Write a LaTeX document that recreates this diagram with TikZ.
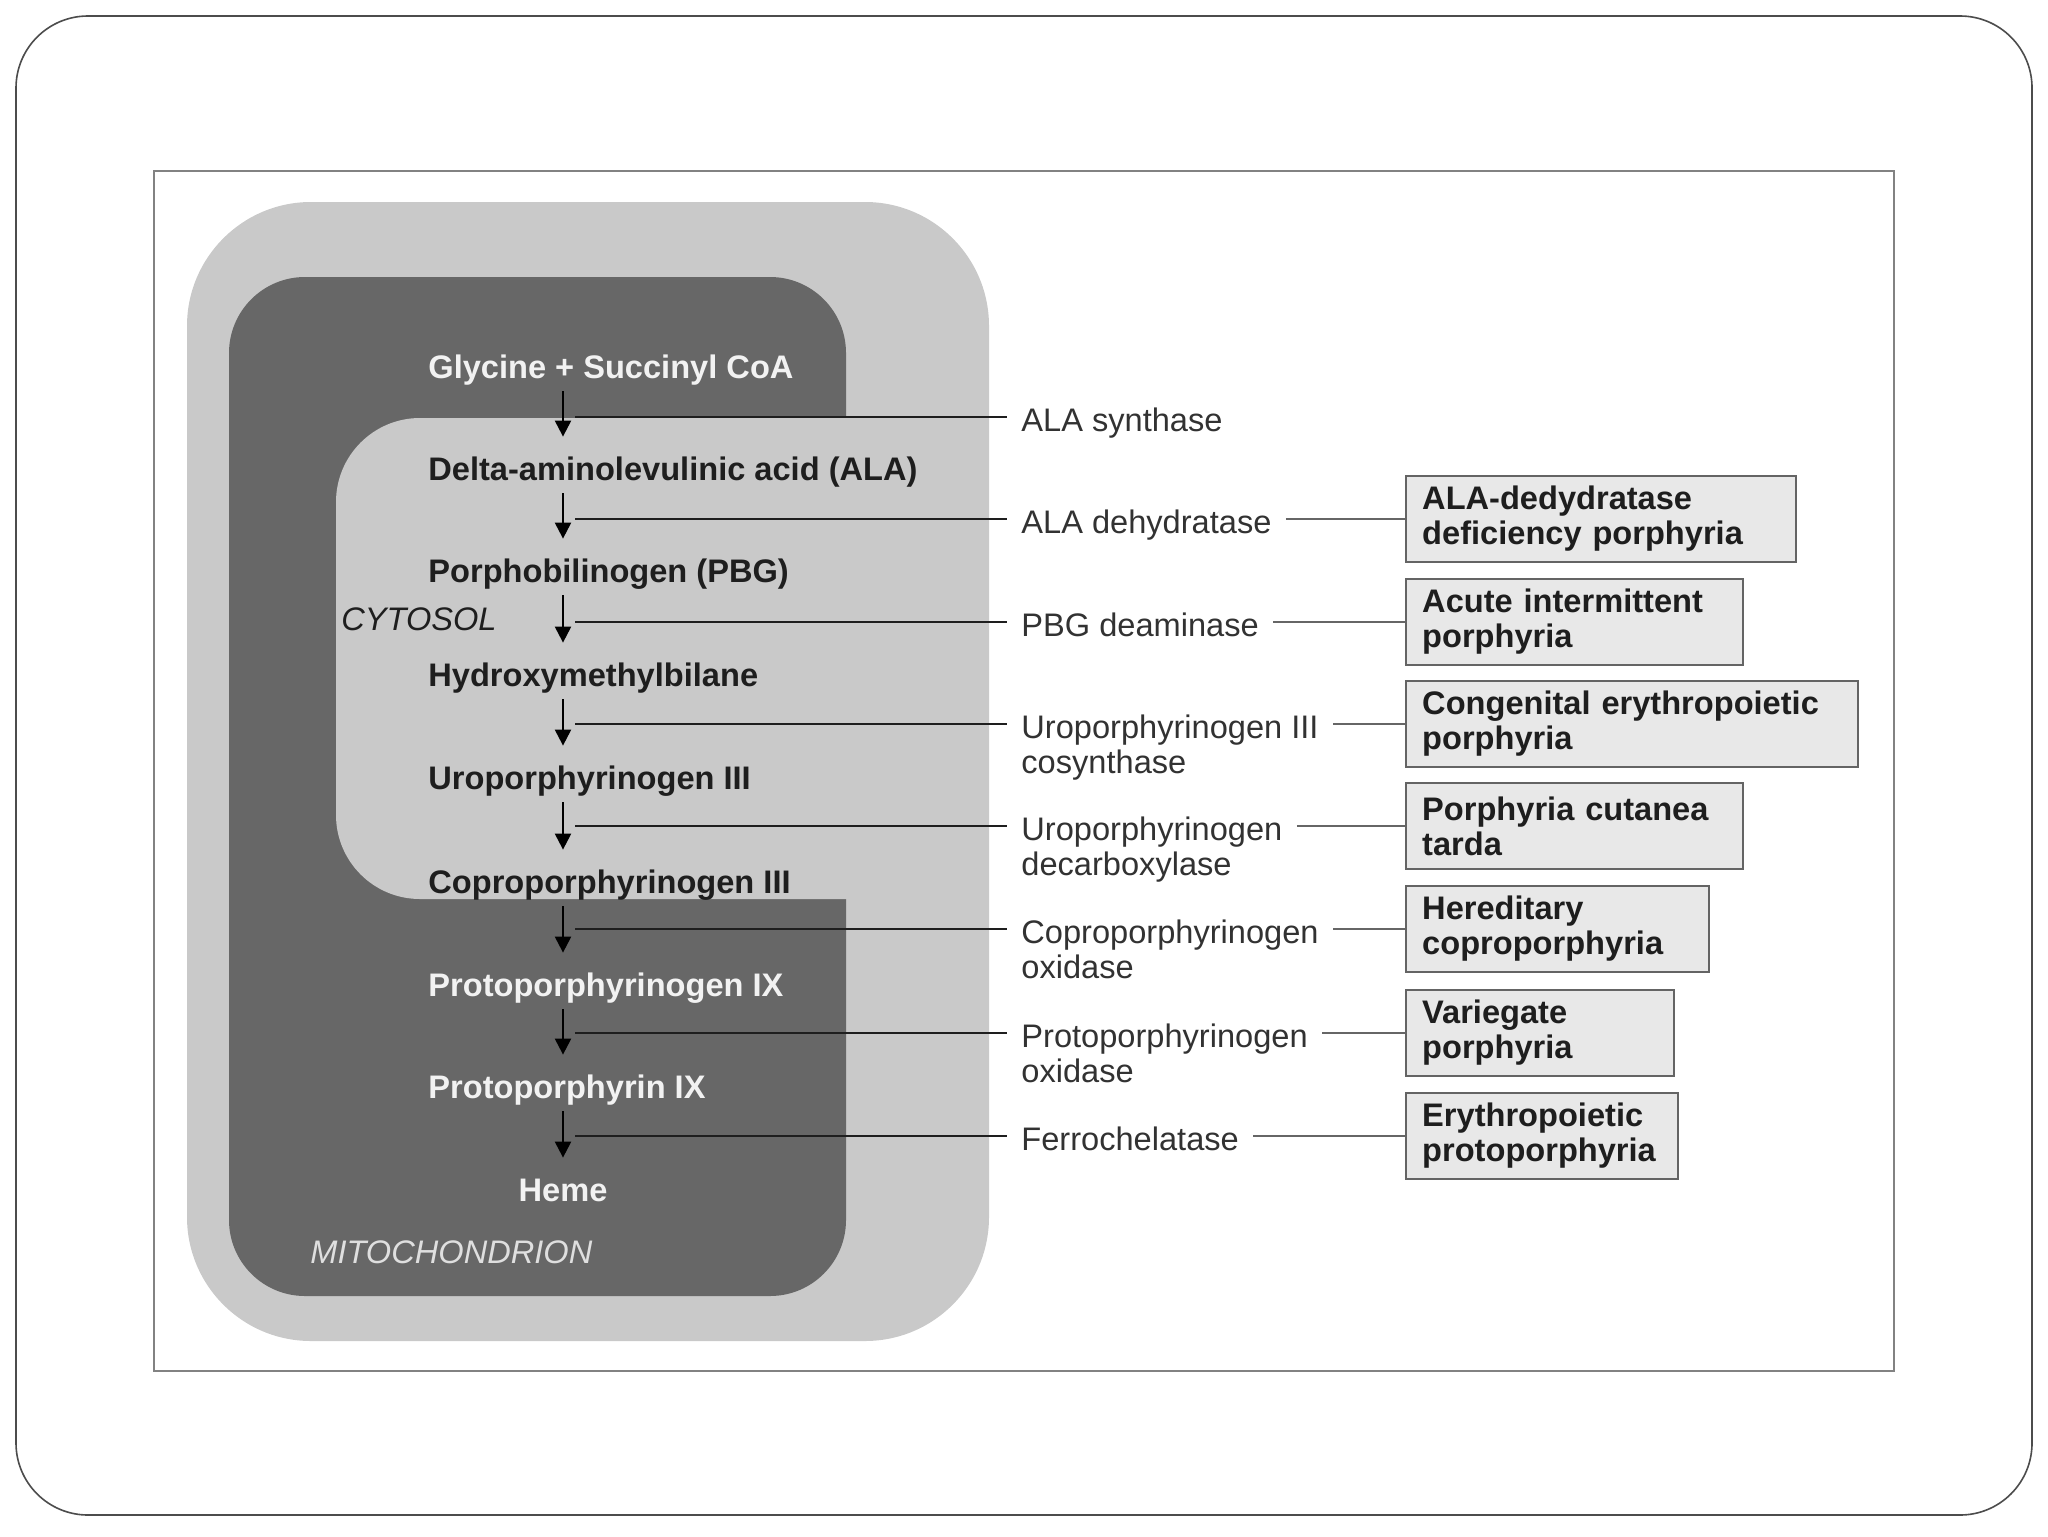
\documentclass[tikz,border=0pt]{standalone}
\usepackage{fontspec}
\setmainfont{Liberation Sans}
\definecolor{cytogray}{RGB}{201, 201, 201}
\definecolor{mitogray}{RGB}{103, 103, 103}
\definecolor{cytotext}{RGB}{30, 30, 30}
\definecolor{mitotext}{RGB}{242, 242, 242}
\definecolor{enztext}{RGB}{50, 50, 50}
\definecolor{boxfill}{RGB}{232, 232, 232}
\definecolor{boxline}{RGB}{100, 100, 100}
\definecolor{framegray}{RGB}{130, 130, 130}
\usetikzlibrary{arrows.meta}
\newcommand{\porfont}{\fontsize{16.3}{17.5}\selectfont}

\begin{document}
\begin{tikzpicture}[x=0.5pt, y=-0.5pt,
    met/.style={font=\porfont\bfseries, anchor=west, inner xsep=0pt, inner ysep=3pt, text height=11.5pt, text depth=3.5pt},
    metin/.style={met, text=cytotext},
    metout/.style={met, text=mitotext},
    enz/.style={font=\porfont, anchor=base west, align=left, inner sep=0pt, text=enztext},
    dbox/.style={draw=boxline, fill=boxfill, line width=1.2pt, anchor=west, align=left, inner xsep=8pt, inner ysep=0pt, minimum height=43pt, text width=#1, font=\porfont\bfseries, text=cytotext},
    flow/.style={line width=1.1pt, -{Triangle[width=8pt, length=8pt]}, shorten >=7pt},
    link/.style={line width=1.3pt, draw=cytotext}]
  \useasboundingbox (0,0) rectangle (2048,1536);
  % slide and figure frames
  \draw[black!70, line width=0.8pt, rounded corners=36pt] (16,16) rectangle (2032,1515);
  \draw[framegray, line width=1pt] (154,171) rectangle (1894,1371);
  % compartments
  \fill[cytogray, rounded corners=62pt] (187,202) rectangle (989,1341);
  \fill[mitogray, rounded corners=38pt] (229,277) rectangle (846,1296);
  \fill[cytogray, rounded corners=42pt] (336,418) rectangle (950,899);
  \node[font=\porfont\itshape, text=cytotext, anchor=west, inner sep=0pt] (cyto) at (341,619) {CYTOSOL};
  \node[font=\porfont\itshape, text=mitotext!92!black, anchor=west, inner sep=0pt] (mito) at (310,1252) {MITOCHONDRION};

  % pathway
  \node[metout] (m1) at (428,370) {Glycine + Succinyl CoA};
  \node[metin] (m2) at (428,472) {Delta-aminolevulinic acid (ALA)};
  \node[metin] (m3) at (428,574) {Porphobilinogen (PBG)};
  \node[metin] (m4) at (428,678) {Hydroxymethylbilane};
  \node[metin] (m5) at (428,781) {Uroporphyrinogen III};
  \node[metin] (m6) at (428,885) {Coproporphyrinogen III};
  \node[metout] (m7) at (428,988) {Protoporphyrinogen IX};
  \node[metout] (m8) at (428,1090) {Protoporphyrin IX};
  \node[metout, anchor=center] (m9) at (563,1193) {Heme};
  \coordinate (ax) at (563,0);
  \foreach \a/\b in {m1/m2, m2/m3, m3/m4, m4/m5, m5/m6, m6/m7, m7/m8, m8/m9}
    \draw[flow] (\a.south -| ax) -- (\b.north -| ax);

  % enzymes
  \foreach \i/\y in {1/417, 2/519, 3/622, 4/724, 5/826, 6/929, 7/1033, 8/1136}
    \coordinate (r\i) at (575,\y);
  \node[enz] (e1) at (1021,431) {ALA synthase};
  \node[enz] (e2) at (1021,533) {ALA dehydratase};
  \node[enz] (e3) at (1021,636) {PBG deaminase};
  \node[enz] (e4) at (1021,773) {Uroporphyrinogen III\\cosynthase};
  \node[enz] (e5) at (1021,875) {Uroporphyrinogen\\decarboxylase};
  \node[enz] (e6) at (1021,978) {Coproporphyrinogen\\oxidase};
  \node[enz] (e7) at (1021,1082) {Protoporphyrinogen\\oxidase};
  \node[enz] (e8) at (1021,1150) {Ferrochelatase};

  % porphyrias
  \node[dbox=179pt] (d2) at (1405,519) {ALA-dedydratase\\deficiency porphyria};
  \node[dbox=152.5pt] (d3) at (1405,622) {Acute intermittent\\porphyria};
  \node[dbox=210pt] (d4) at (1405,724) {Congenital erythropoietic\\porphyria};
  \node[dbox=152.5pt] (d5) at (1405,826) {Porphyria cutanea\\tarda};
  \node[dbox=135.5pt] (d6) at (1405,929) {Hereditary\\coproporphyria};
  \node[dbox=118pt] (d7) at (1405,1033) {Variegate\\porphyria};
  \node[dbox=120pt] (d8) at (1405,1136) {Erythropoietic\\protoporphyria};

  \foreach \i in {1,...,8}
    \draw[link, shorten >=7pt] (r\i) -- (e\i.west |- r\i);
  \foreach \i in {2,...,8}
    \draw[link, draw=black!60, shorten <=7pt] (e\i.east |- d\i.west) -- (d\i.west);
\end{tikzpicture}
\end{document}
